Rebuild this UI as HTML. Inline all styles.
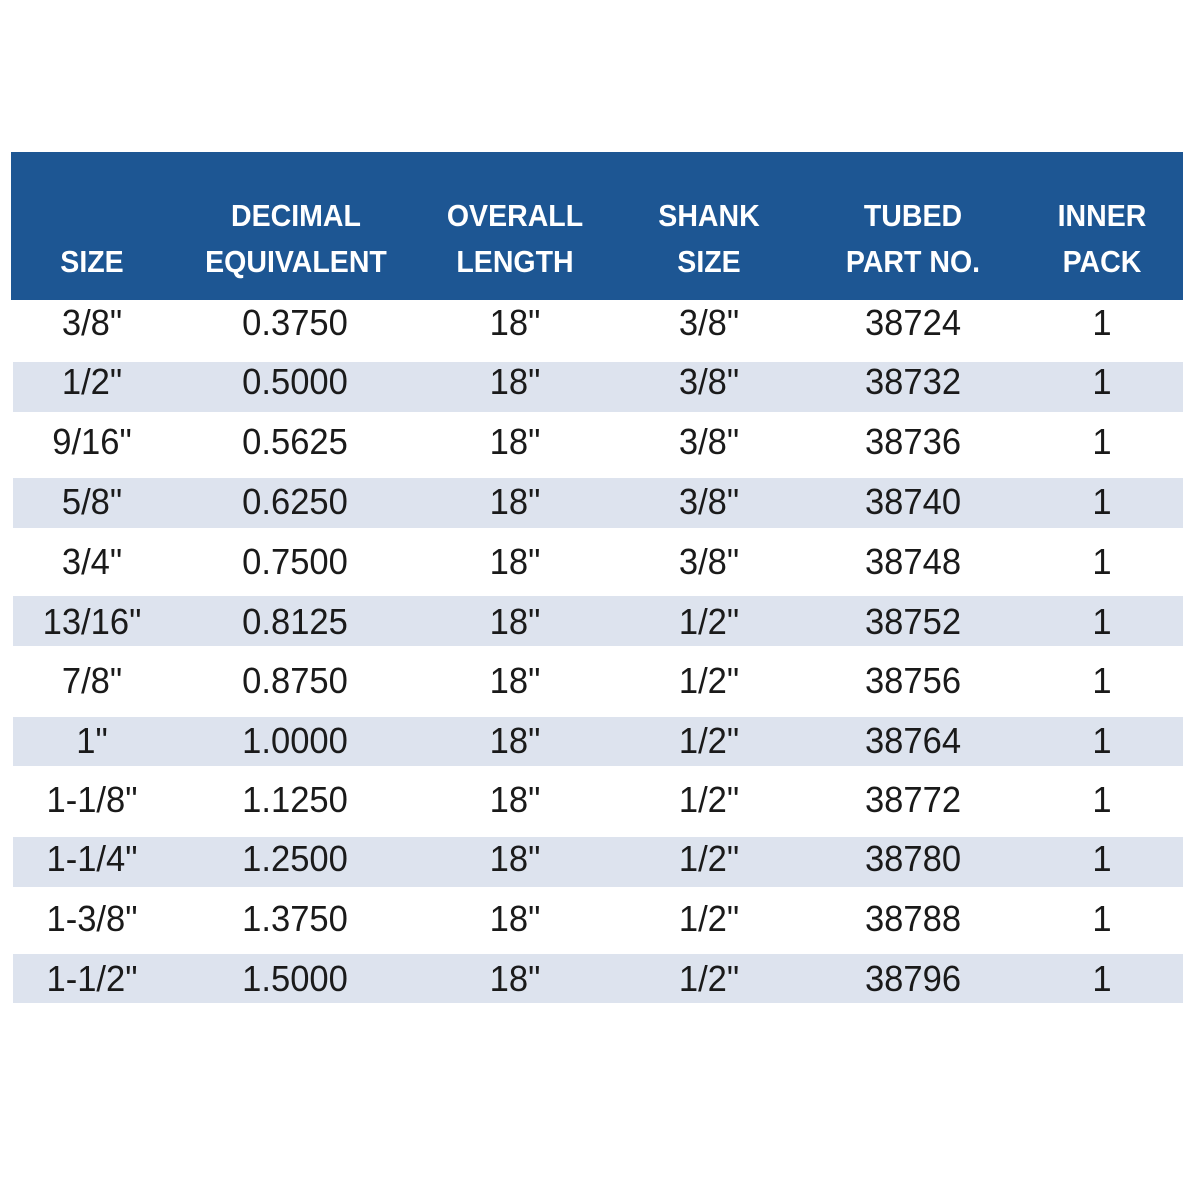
<!DOCTYPE html>
<html><head><style>
body{margin:0;width:1200px;height:1200px;background:#fff;position:relative;overflow:hidden;font-family:"Liberation Sans",sans-serif;}
.hd{position:absolute;left:11px;top:152px;width:1172px;height:148px;background:#1d5693;}
.band{position:absolute;left:13px;width:1170px;background:#dde3ee;}
.t{position:absolute;transform:translate(-50%,-50%) scaleX(0.96);white-space:nowrap;color:#1a1a1a;font-size:36px;}
.h{position:absolute;transform:translate(-50%,-50%) scaleX(0.92);white-space:nowrap;color:#fff;font-weight:bold;font-size:31px;}
</style></head><body>
<div class="hd"></div>
<div class="band" style="top:362px;height:50px"></div>
<div class="band" style="top:478px;height:50px"></div>
<div class="band" style="top:596px;height:50px"></div>
<div class="band" style="top:717px;height:49px"></div>
<div class="band" style="top:837px;height:50px"></div>
<div class="band" style="top:954px;height:49px"></div>
<div class="h" style="left:92px;top:262px">SIZE</div>
<div class="h" style="left:296px;top:216px">DECIMAL</div>
<div class="h" style="left:296px;top:262px">EQUIVALENT</div>
<div class="h" style="left:515px;top:216px">OVERALL</div>
<div class="h" style="left:515px;top:262px">LENGTH</div>
<div class="h" style="left:709px;top:216px">SHANK</div>
<div class="h" style="left:709px;top:262px">SIZE</div>
<div class="h" style="left:913px;top:216px">TUBED</div>
<div class="h" style="left:913px;top:262px">PART NO.</div>
<div class="h" style="left:1102px;top:216px">INNER</div>
<div class="h" style="left:1102px;top:262px">PACK</div>
<script>
var rows=[["3/8\"","0.3750","3/8\"","38724"],["1/2\"","0.5000","3/8\"","38732"],["9/16\"","0.5625","3/8\"","38736"],["5/8\"","0.6250","3/8\"","38740"],["3/4\"","0.7500","3/8\"","38748"],["13/16\"","0.8125","1/2\"","38752"],["7/8\"","0.8750","1/2\"","38756"],["1\"","1.0000","1/2\"","38764"],["1-1/8\"","1.1250","1/2\"","38772"],["1-1/4\"","1.2500","1/2\"","38780"],["1-3/8\"","1.3750","1/2\"","38788"],["1-1/2\"","1.5000","1/2\"","38796"]];
var ys=[323,382,442,502,562,622,681,741,800,859,919,979];
var xs=[92,295,515,709,913,1102];
var h="";
rows.forEach(function(r,i){var v=[r[0],r[1],"18\"",r[2],r[3],"1"];v.forEach(function(s,j){h+='<div class="t" style="left:'+xs[j]+'px;top:'+ys[i]+'px">'+s.replace(/"/g,"&quot;")+'</div>';});});
document.write(h);
</script>
</body></html>
